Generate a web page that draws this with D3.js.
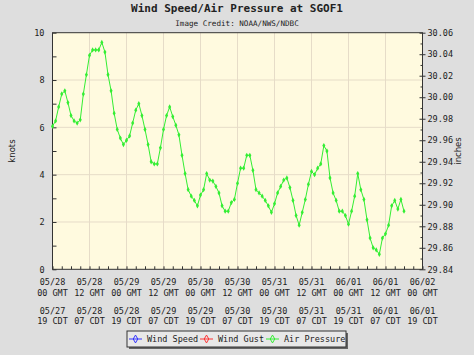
<!DOCTYPE html>
<html>
<head>
<meta charset="utf-8">
<script src="https://cdn.jsdelivr.net/npm/d3@7"></script>
<style>
  html, body { margin: 0; padding: 0; background: #dedede; }
  svg { display: block; }
  text { fill: #222; }
</style>
</head>
<body>
<svg id="chart" width="474" height="355"></svg>
<script>
// ---- data ----
const title = "Wind Speed/Air Pressure at SGOF1";
const credit = "Image Credit: NOAA/NWS/NDBC";
// hourly air pressure (inches), starting 05/28 00 GMT
const pressure = [
  29.973, 29.978, 29.991, 30.003, 30.006, 29.995, 29.983, 29.978, 29.976, 29.979,
  30.003, 30.021, 30.039, 30.044, 30.044, 30.044, 30.051, 30.042, 30.021, 30.006,
  29.985, 29.970, 29.962, 29.956, 29.960, 29.964, 29.976, 29.988, 29.994, 29.983,
  29.970, 29.956, 29.940, 29.938, 29.938, 29.953, 29.970, 29.983, 29.991, 29.982,
  29.974, 29.965, 29.946, 29.929, 29.914, 29.908, 29.904, 29.899, 29.909, 29.914,
  29.929, 29.923, 29.922, 29.917, 29.911, 29.899, 29.894, 29.894, 29.902, 29.905,
  29.920, 29.934, 29.934, 29.946, 29.946, 29.932, 29.914, 29.911, 29.908, 29.904,
  29.899, 29.893, 29.901, 29.911, 29.917, 29.923, 29.925, 29.916, 29.904, 29.890,
  29.881, 29.893, 29.905, 29.919, 29.931, 29.928, 29.934, 29.938, 29.955, 29.950,
  29.925, 29.911, 29.904, 29.894, 29.894, 29.890, 29.882, 29.894, 29.908, 29.929,
  29.914, 29.905, 29.886, 29.869, 29.860, 29.858, 29.854, 29.869, 29.873, 29.881,
  29.899, 29.904, 29.896, 29.905, 29.894
];
const windSpeed = [];  // no wind data reported
const windGust = [];
const knotTicks = [0, 2, 4, 6, 8, 10];
const inchTicks = ["29.84","29.86","29.88","29.90","29.92","29.94","29.96","29.98","30.00","30.02","30.04","30.06"];
const tickHours = [0, 12, 24, 36, 48, 60, 72, 84, 96, 108, 120];
const gmtDates = ["05/28","05/28","05/29","05/29","05/30","05/30","05/31","05/31","06/01","06/01","06/02"];
const gmtHours = ["00 GMT","12 GMT","00 GMT","12 GMT","00 GMT","12 GMT","00 GMT","12 GMT","00 GMT","12 GMT","00 GMT"];
const cdtDates = ["05/27","05/28","05/28","05/29","05/29","05/30","05/30","05/31","05/31","06/01","06/01"];
const cdtHours = ["19 CDT","07 CDT","19 CDT","07 CDT","19 CDT","07 CDT","19 CDT","07 CDT","19 CDT","07 CDT","19 CDT"];
const legendItems = [
  {name: "Wind Speed", color: "#3333ff"},
  {name: "Wind Gust", color: "#ff3333"},
  {name: "Air Pressure", color: "#33ee33"}
];

// ---- layout ----
const L = 52.5, R = 422.5, T = 32.7, B = 269.3;
const svg = d3.select("#chart");
const mono = "'DejaVu Sans Mono', monospace";
const sans = "'DejaVu Sans', sans-serif";

const x = d3.scaleLinear().domain([0, 120]).range([L, R]);
const yK = d3.scaleLinear().domain([0, 10]).range([B, T]);
const yP = d3.scaleLinear().domain([29.84, 30.06]).range([B, T]);

svg.append("rect").attr("width", 474).attr("height", 355).attr("fill", "#dedede");

// title
svg.append("text").attr("x", 237).attr("y", 12).attr("text-anchor", "middle")
  .style("font-family", mono).style("font-weight", "bold").style("font-size", "11px")
  .text(title);
svg.append("text").attr("x", 237).attr("y", 26).attr("text-anchor", "middle")
  .style("font-family", mono).style("font-size", "7.6px")
  .text(credit);

// plot background
svg.append("rect").attr("x", L).attr("y", T).attr("width", R - L).attr("height", B - T)
  .attr("fill", "#fffadf");

// grid
const grid = svg.append("g").attr("stroke", "#e6dcc8").attr("stroke-width", 1);
tickHours.slice(1, -1).forEach(h => {
  grid.append("line").attr("x1", x(h)).attr("x2", x(h)).attr("y1", T).attr("y2", B);
});
knotTicks.slice(1, -1).forEach(k => {
  grid.append("line").attr("x1", L).attr("x2", R).attr("y1", yK(k)).attr("y2", yK(k));
});

// axes
const leftAxis = d3.axisLeft(yK).tickValues(d3.range(0, 10.01, 1))
  .tickSize(-4).tickPadding(8)
  .tickFormat(d => knotTicks.includes(d) ? d : "");
const gL = svg.append("g").attr("transform", `translate(${L},0)`).call(leftAxis);

const rightAxis = d3.axisRight(yP).tickValues(d3.range(0, 23).map(i => 29.84 + i * 0.01))
  .tickSize(3).tickPadding(2)
  .tickFormat((d, i) => i % 2 === 0 ? inchTicks[i / 2] : "");
const gR = svg.append("g").attr("transform", `translate(${R},0)`).call(rightAxis);
gR.selectAll(".tick line").attr("x1", (d, i) => i % 2 === 0 ? -3 : -2).attr("x2", (d, i) => i % 2 === 0 ? 3 : 0);

const bottomAxis = d3.axisBottom(x).tickValues(d3.range(0, 121, 3)).tickSize(-3).tickFormat("");
const gB = svg.append("g").attr("transform", `translate(0,${B})`).call(bottomAxis);

[gL, gR, gB].forEach(g => {
  g.select(".domain").remove();
  g.selectAll(".tick line").attr("stroke", "#333");
  g.selectAll("text").style("font-family", mono).style("font-size", "8.5px").attr("fill", "#222");
});

// plot border
svg.append("rect").attr("x", L).attr("y", T).attr("width", R - L).attr("height", B - T)
  .attr("fill", "none").attr("stroke", "#333").attr("stroke-width", 1);

// x labels
const xl = svg.append("g").style("font-family", mono).style("font-size", "8.5px").attr("text-anchor", "middle");
tickHours.forEach((h, i) => {
  xl.append("text").attr("x", x(h)).attr("y", 285).text(gmtDates[i]);
  xl.append("text").attr("x", x(h)).attr("y", 295.5).text(gmtHours[i]);
  xl.append("text").attr("x", x(h)).attr("y", 313.5).text(cdtDates[i]);
  xl.append("text").attr("x", x(h)).attr("y", 324).text(cdtHours[i]);
});

// axis titles
svg.append("text").attr("transform", `translate(15,${(T + B) / 2}) rotate(-90)`)
  .attr("text-anchor", "middle").style("font-family", sans).style("font-size", "8.5px").text("knots");
svg.append("text").attr("transform", `translate(461,${(T + B) / 2}) rotate(-90)`)
  .attr("text-anchor", "middle").style("font-family", sans).style("font-size", "8.5px").text("inches");

// pressure series
const pts = pressure.map((p, i) => ({h: i, p}));
const lineGen = d3.line().x(d => x(d.h)).y(d => yP(d.p));
svg.append("path").datum(pts).attr("d", lineGen).attr("fill", "none")
  .attr("stroke", legendItems[2].color).attr("stroke-width", 1);
const diamond = d3.symbol().type(d3.symbolDiamond).size(8);
svg.append("g").selectAll("path").data(pts).join("path")
  .attr("transform", d => `translate(${x(d.h)},${yP(d.p)})`)
  .attr("d", diamond).attr("fill", legendItems[2].color);

// legend
const lg = svg.append("g");
lg.append("rect").attr("x", 129).attr("y", 333).attr("width", 219).attr("height", 16).attr("fill", "#666");
lg.append("rect").attr("x", 127).attr("y", 331).attr("width", 219).attr("height", 16)
  .attr("fill", "#e8e8e8").attr("stroke", "#333").attr("stroke-width", 1);
const legX = [129, 200, 266];
legendItems.forEach((it, i) => {
  const x0 = legX[i];
  lg.append("line").attr("x1", x0).attr("x2", x0 + 13).attr("y1", 339).attr("y2", 339)
    .attr("stroke", it.color).attr("stroke-width", 1);
  lg.append("path").attr("transform", `translate(${x0 + 6.5},339)`)
    .attr("d", d3.symbol().type(d3.symbolDiamond).size(18)).attr("fill", "none").attr("stroke", it.color);
  lg.append("text").attr("x", x0 + 18).attr("y", 342)
    .style("font-family", mono).style("font-size", "8.5px").text(it.name);
});
</script>
</body>
</html>
